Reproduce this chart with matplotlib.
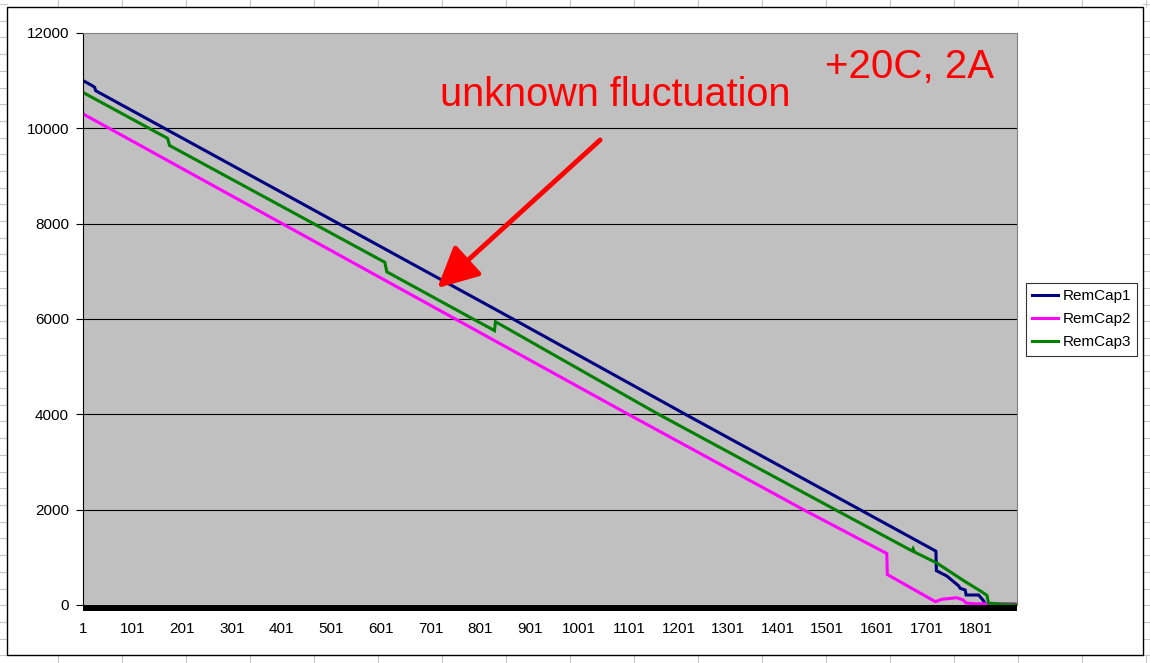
import matplotlib
matplotlib.use("Agg")
import matplotlib.pyplot as plt
from matplotlib.patches import Rectangle
from matplotlib.lines import Line2D

plt.rcParams['font.family'] = ['Liberation Sans', 'DejaVu Sans']

# data (category index -> remaining capacity)
cap1_x = [1, 20, 24, 26, 870, 1215, 1567, 1720, 1721, 1742, 1766, 1769, 1779, 1781, 1806, 1816, 1820, 1883]
cap1_y = [11000, 10890, 10860, 10790, 5985, 4000, 2000, 1130, 720, 608, 400, 350, 315, 210, 210, 90, 0, 0]

cap2_x = [1, 1100, 1453, 1621, 1622, 1719, 1732, 1762, 1775, 1781, 1800, 1883]
cap2_y = [10300, 4000, 2000, 1080, 640, 70, 120, 153, 105, 40, 25, 25]

cap3_x = [1, 171, 175, 609, 613, 787, 822, 830, 832, 1161, 1517, 1628, 1672, 1674, 1677,
          1722, 1779, 1812, 1823, 1826, 1850, 1883]
cap3_y = [10750, 9790, 9640, 7190, 6990, 6000, 5804, 5755, 5943, 4000, 2000, 1380, 1135, 1180, 1110,
          880, 490, 280, 200, 40, 20, 10]

series = [("RemCap1", cap1_x, cap1_y, "#000080"),
          ("RemCap2", cap2_x, cap2_y, "#FF00FF"),
          ("RemCap3", cap3_x, cap3_y, "#008000")]

x_ticks = list(range(1, 1802, 100))
y_ticks = [0, 2000, 4000, 6000, 8000, 10000, 12000]
n_cat = 1883

W, H = 1150, 663
fig = plt.figure(figsize=(W / 100, H / 100), dpi=100)
fig.patch.set_facecolor("white")

# spreadsheet cell grid peeking out around the chart
grid_c = "#C8C8C8"
for gx in range(58, W, 64):
    fig.add_artist(Line2D([gx / W, gx / W], [0, 8 / H], color=grid_c, lw=0.8, transform=fig.transFigure, zorder=-3))
    fig.add_artist(Line2D([gx / W, gx / W], [1 - 7 / H, 1], color=grid_c, lw=0.8, transform=fig.transFigure, zorder=-3))
gy = 4.0
while gy < H:
    fig.add_artist(Line2D([0, 7 / W], [1 - gy / H] * 2, color=grid_c, lw=0.8, transform=fig.transFigure, zorder=-3))
    fig.add_artist(Line2D([1 - 7 / W, 1], [1 - gy / H] * 2, color=grid_c, lw=0.8, transform=fig.transFigure, zorder=-3))
    gy += 16.7

# chart area border
fig.add_artist(Rectangle((7 / W, 8 / H), 1136 / W, 648 / H, transform=fig.transFigure,
                         facecolor="white", edgecolor="black", lw=1.0, zorder=-2))

ax = fig.add_axes([83 / W, 58 / H, 934 / W, 572 / H])
ax.set_facecolor("#C0C0C0")

for name, xs, ys, col in series:
    ax.plot(xs, ys, color=col, lw=2.2, label=name, solid_joinstyle="miter")

ax.set_xlim(0.5, n_cat + 0.5)
ax.set_ylim(0, 12000)
ax.set_yticks(y_ticks)
ax.set_yticklabels([str(v) for v in y_ticks])
ax.set_xticks(x_ticks)
ax.set_xticklabels([str(v) for v in x_ticks])
ax.tick_params(axis="y", length=5, width=0.8, pad=5, labelsize=11, direction="out")
ax.tick_params(axis="x", length=0, pad=12, labelsize=11)

for v in y_ticks[1:-1]:
    ax.axhline(v, color="black", lw=0.8, zorder=1)

ax.spines["left"].set_color("black")
ax.spines["left"].set_linewidth(0.8)
ax.spines["top"].set_color("#808080")
ax.spines["right"].set_color("#808080")
ax.spines["top"].set_linewidth(0.8)
ax.spines["right"].set_linewidth(0.8)
ax.spines["bottom"].set_visible(False)

# thick category axis line
ax.add_patch(Rectangle((0, -6 / 572), 1, 6 / 572, transform=ax.transAxes,
                       facecolor="black", edgecolor="none", clip_on=False, zorder=5))

# annotations
ax.text(721, 10470, "unknown fluctuation", color="red", fontsize=28.5, ha="left", va="baseline")
ax.text(1497, 11055, "+20C, 2A", color="red", fontsize=29, ha="left", va="baseline")
ax.annotate("", xy=(715, 6650), xytext=(1043, 9755),
            arrowprops=dict(arrowstyle="-|>,head_length=1.0,head_width=0.5", color="red",
                            lw=3.5, mutation_scale=25, shrinkA=0, shrinkB=0))

leg = fig.legend(loc="upper left", bbox_to_anchor=(1026 / W, 1 - 283 / H), borderaxespad=0,
                 fontsize=11, frameon=True, fancybox=False, handlelength=1.7,
                 handletextpad=0.3, labelspacing=0.6, borderpad=0.4)
leg.get_frame().set_edgecolor("black")
leg.get_frame().set_linewidth(0.8)
for ln in leg.get_lines():
    ln.set_linewidth(2.2)

fig.savefig("out.png", dpi=100)
